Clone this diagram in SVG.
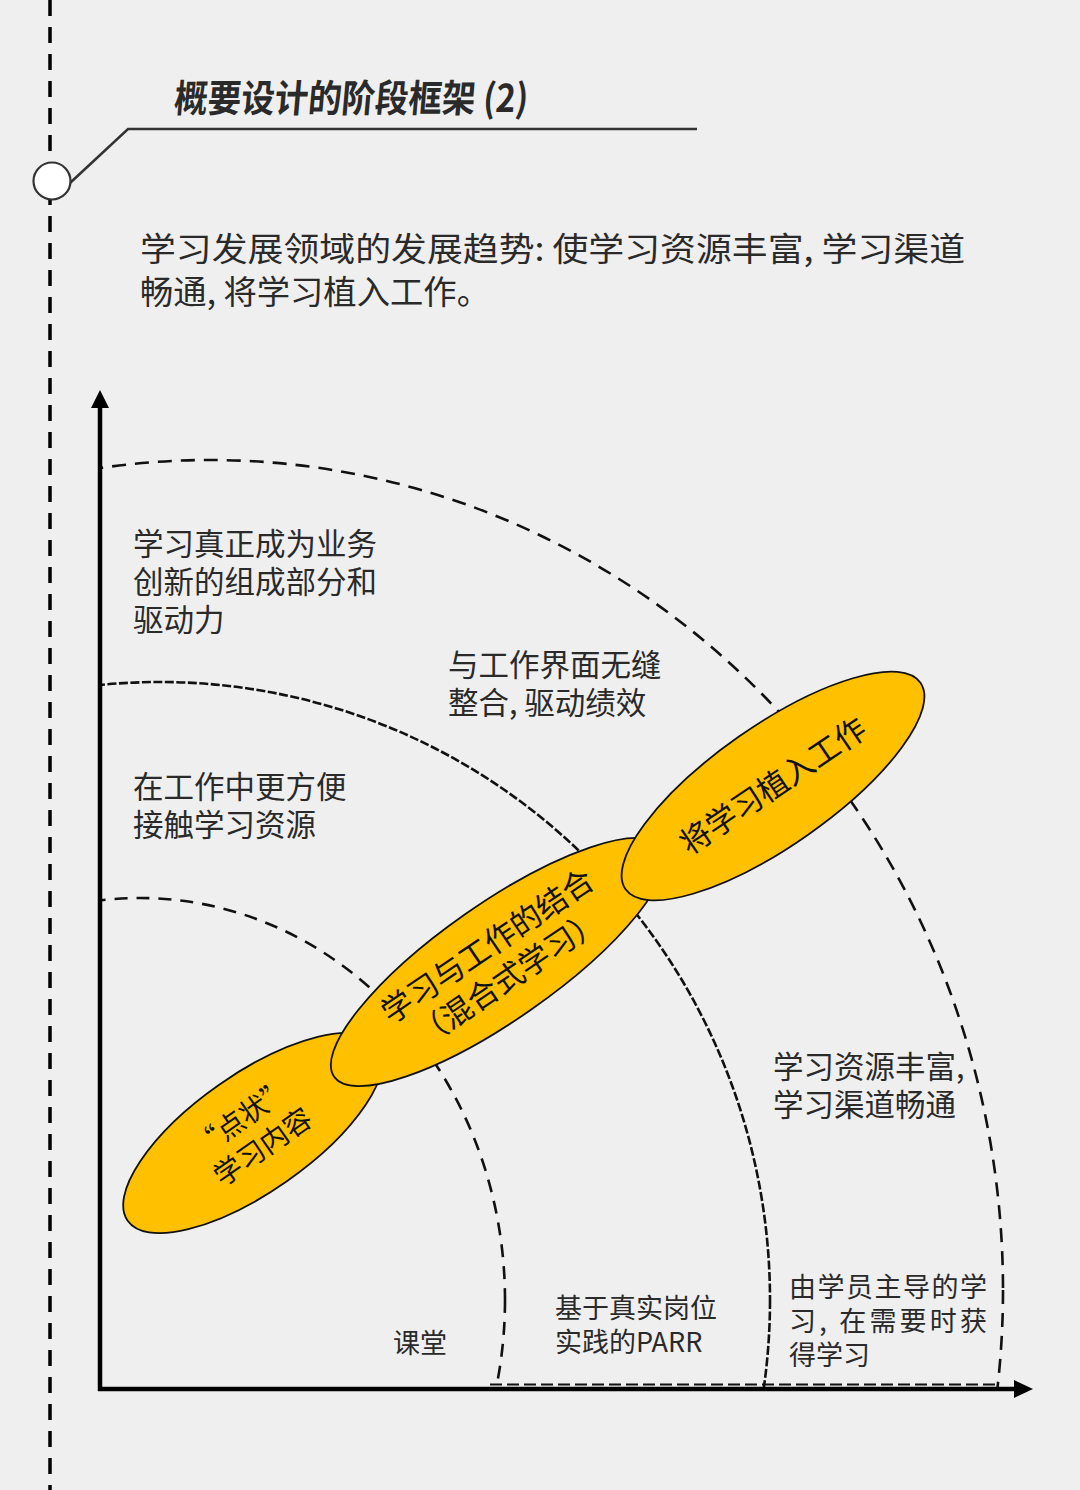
<svg xmlns="http://www.w3.org/2000/svg" width="1080" height="1490" viewBox="0 0 1080 1490">
<defs>
<style>
.t{font-family:"Noto Sans CJK SC","Noto Sans",sans-serif;fill:#2a2a2a;}
.lab{font-size:30.5px;}
.small{font-size:27px;}
.oval{fill:#FFC000;stroke:#111;stroke-width:1.8;}
.ot{font-family:"Noto Sans CJK SC","Noto Sans",sans-serif;fill:#111;text-anchor:middle;}
.arc{fill:none;stroke:#111;stroke-width:2.6;}
</style>
<clipPath id="quad"><rect x="101" y="0" width="979" height="1387"/></clipPath>
</defs>
<rect width="1080" height="1490" fill="#efefef"/>

<g id="sidebar">
<line x1="50" y1="0" x2="50" y2="1490" stroke="#000" stroke-width="3.5" stroke-dasharray="16 11"/>
<polyline points="70,183 128,129 697,129" fill="none" stroke="#333" stroke-width="2.5"/>
<circle cx="52" cy="181" r="18.5" fill="#fff" stroke="#333" stroke-width="2.2"/>
</g>

<g id="title">
<text class="t" x="173" y="112" font-size="38" font-weight="bold" fill="#111" textLength="354" lengthAdjust="spacingAndGlyphs" transform="skewX(-5) translate(10,0)">概要设计的阶段框架 (2)</text>
</g>

<g id="subtitle">
<text class="t" x="140" y="261" font-size="33" textLength="825" lengthAdjust="spacingAndGlyphs" fill="#111">学习发展领域的发展趋势: 使学习资源丰富, 学习渠道</text>
<text class="t" x="140" y="304" font-size="33" textLength="350" lengthAdjust="spacingAndGlyphs" fill="#111">畅通, 将学习植入工作。</text>
</g>

<g id="connectors">
<g clip-path="url(#quad)">
<ellipse class="arc" cx="210" cy="1290" rx="793" ry="830" stroke-dasharray="14 9"/>
<ellipse class="arc" cx="160" cy="1300" rx="610" ry="618" stroke-dasharray="9 2.5"/>
<ellipse class="arc" cx="140" cy="1300" rx="365" ry="402" stroke-dasharray="13 9"/>
</g>
<line x1="490" y1="1384.5" x2="995" y2="1384.5" stroke="#111" stroke-width="2.2" stroke-dasharray="12 5"/>
<line id="y-axis" x1="100" y1="1391" x2="100" y2="404" stroke="#000" stroke-width="4.5"/>
<polygon points="100,390 109,408 91,408" fill="#000"/>
<line id="x-axis" x1="98" y1="1389" x2="1018" y2="1389" stroke="#000" stroke-width="4.5"/>
<polygon points="1033,1389 1014,1380 1014,1398" fill="#000"/>
</g>

<g id="labels">
<text class="t lab" x="133" y="555">学习真正成为业务</text>
<text class="t lab" x="133" y="593">创新的组成部分和</text>
<text class="t lab" x="133" y="631">驱动力</text>
<text class="t lab" x="448" y="676">与工作界面无缝</text>
<text class="t lab" x="448" y="714">整合, 驱动绩效</text>
<text class="t lab" x="133" y="798">在工作中更方便</text>
<text class="t lab" x="133" y="836">接触学习资源</text>
<text class="t lab" x="773" y="1078">学习资源丰富,</text>
<text class="t lab" x="773" y="1116">学习渠道畅通</text>
<text class="t small" x="393" y="1353">课堂</text>
<text class="t small" x="555" y="1318">基于真实岗位</text>
<text class="t small" x="555" y="1352">实践的PARR</text>
<text class="t small" x="789" y="1297" textLength="198" lengthAdjust="spacing">由学员主导的学</text>
<text class="t small" x="789" y="1331" textLength="198" lengthAdjust="spacing">习, 在需要时获</text>
<text class="t small" x="789" y="1365">得学习</text>
</g>

<g id="node-point">
<ellipse class="oval" cx="253" cy="1133" rx="153" ry="59" transform="rotate(-35 253 1133)"/>
<g transform="rotate(-35 253 1133)">
<text class="ot" x="253" y="1124" font-size="28">“点状”</text>
<text class="ot" x="253" y="1160" font-size="28">学习内容</text>
</g>
</g>

<g id="node-blended">
<ellipse class="oval" cx="498" cy="962" rx="200" ry="58" transform="rotate(-35 498 962)"/>
<g transform="rotate(-34 498 962)">
<text class="ot" x="498" y="954" font-size="31">学习与工作的结合</text>
<text class="ot" x="498" y="992" font-size="31">（混合式学习）</text>
</g>
</g>

<g id="node-embed">
<ellipse class="oval" cx="773" cy="786" rx="180" ry="60" transform="rotate(-35 773 786)"/>
<g transform="rotate(-34 773 786)">
<text class="ot" x="773" y="797" font-size="31">将学习植入工作</text>
</g>
</g>
</svg>
